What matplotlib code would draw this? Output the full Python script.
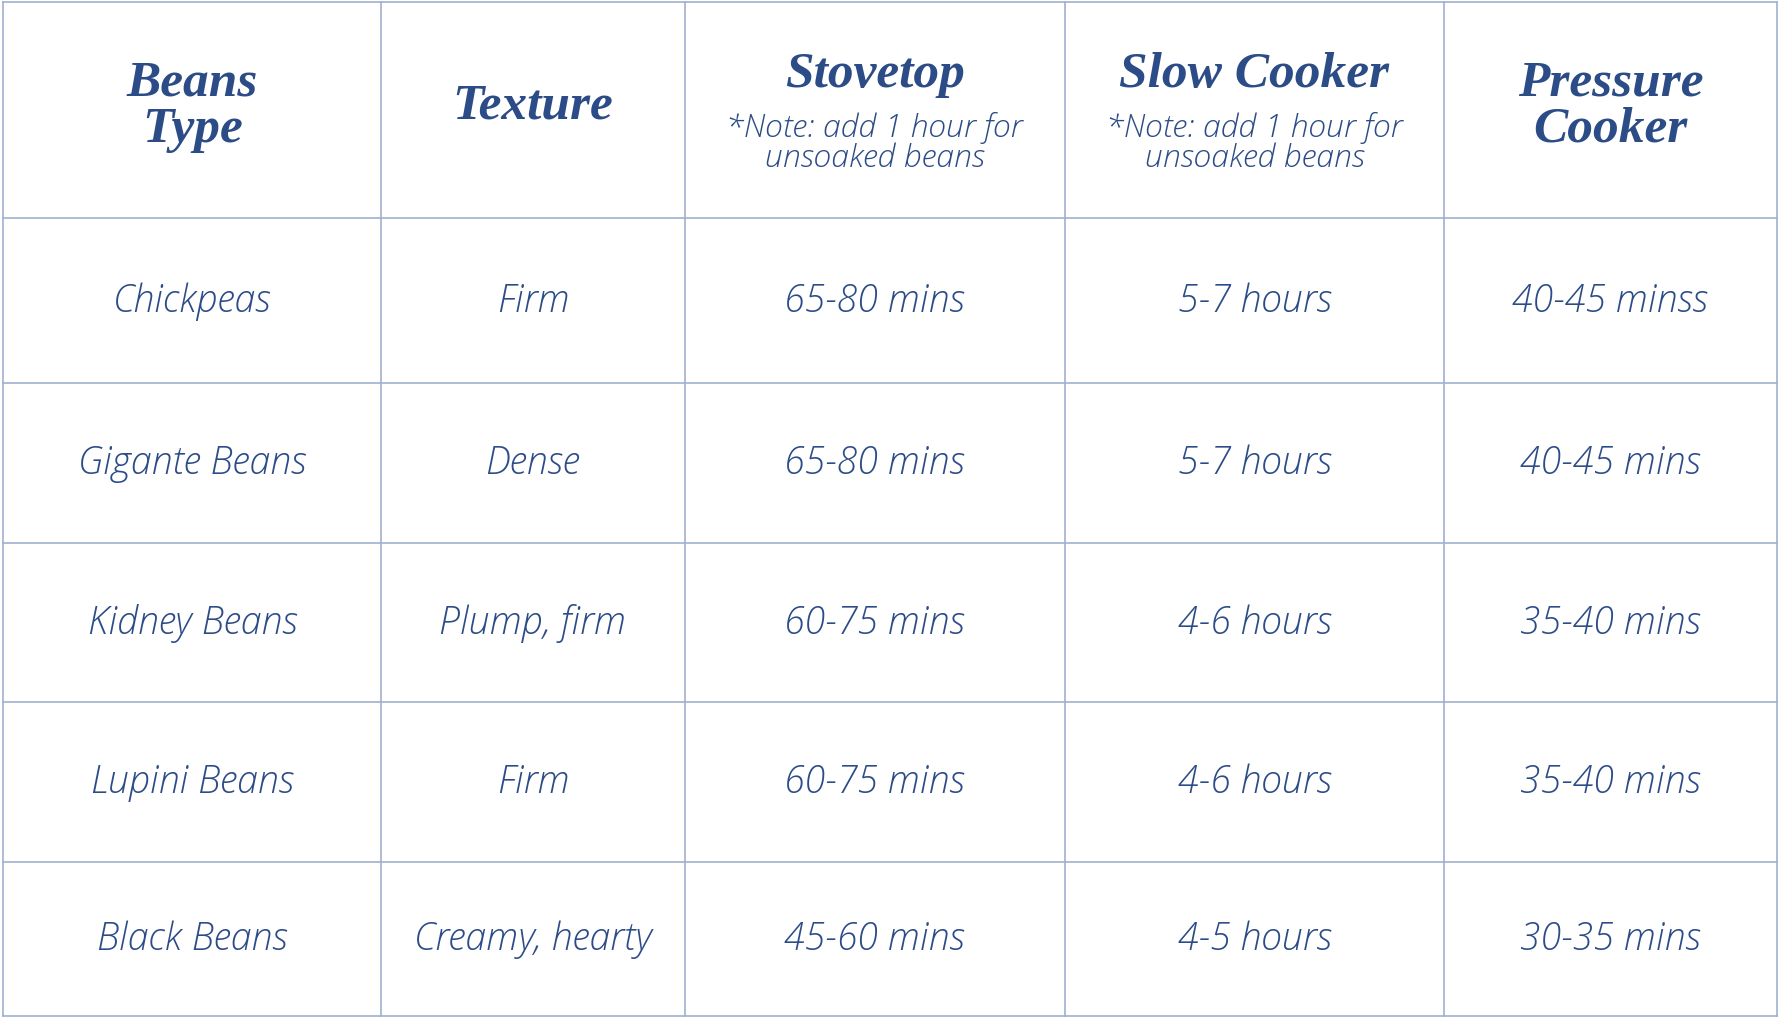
import matplotlib
matplotlib.use("Agg")
import matplotlib.pyplot as plt

headers = ["Beans\nType", "Texture", "Stovetop", "Slow Cooker", "Pressure\nCooker"]
notes = [None, None, "*Note: add 1 hour for\nunsoaked beans", "*Note: add 1 hour for\nunsoaked beans", None]
beans = ["Chickpeas", "Gigante Beans", "Kidney Beans", "Lupini Beans", "Black Beans"]
texture = ["Firm", "Dense", "Plump, firm", "Firm", "Creamy, hearty"]
stovetop = ["65-80 mins", "65-80 mins", "60-75 mins", "60-75 mins", "45-60 mins"]
slow = ["5-7 hours", "5-7 hours", "4-6 hours", "4-6 hours", "4-5 hours"]
pressure = ["40-45 minss", "40-45 mins", "35-40 mins", "35-40 mins", "30-35 mins"]

W, H = 1568, 898
xs = [3, 336, 603, 938, 1272, 1565]
ys = [3, 193, 338, 479, 619, 760, 895]
col = "#2c4c87"
lc = "#9fb0cf"

fig = plt.figure(figsize=(17.8, 10.2), dpi=100)
ax = fig.add_axes([0, 0, 1, 1])
ax.set_xlim(0, W); ax.set_ylim(H, 0); ax.axis("off")
for x in xs:
    ax.plot([x, x], [ys[0], ys[-1]], color=lc, lw=1.2)
for y in ys:
    ax.plot([xs[0], xs[-1]], [y, y], color=lc, lw=1.2)

for i, h in enumerate(headers):
    cx = (xs[i] + xs[i+1]) / 2
    if notes[i]:
        ax.text(cx, 66, h, ha="center", va="center", fontsize=37, fontweight="bold",
                style="italic", family="Liberation Serif", color=col)
        ax.text(cx, 126, notes[i], ha="center", va="center", fontsize=23,
                style="italic", family="Open Sans", fontweight="light", color=col, linespacing=0.95)
    else:
        ax.text(cx, 94, h, ha="center", va="center", fontsize=37, fontweight="bold",
                style="italic", family="Liberation Serif", color=col, linespacing=1.0)

cols = [beans, texture, stovetop, slow, pressure]
for r in range(5):
    cy = (ys[r+1] + ys[r+2]) / 2
    for c in range(5):
        cx = (xs[c] + xs[c+1]) / 2
        ax.text(cx, cy, cols[c][r], ha="center", va="center", fontsize=27,
                style="italic", family="Open Sans", fontweight="light", color=col)

fig.savefig("out.png", dpi=100, facecolor="white")
